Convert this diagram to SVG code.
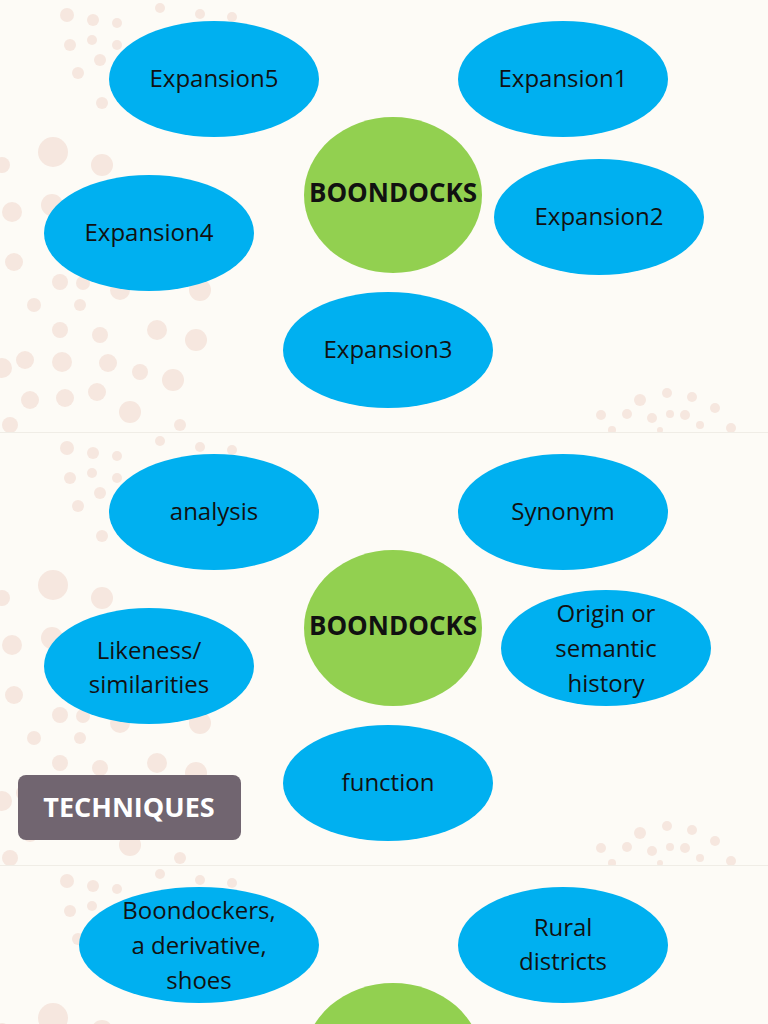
<svg xmlns="http://www.w3.org/2000/svg" width="768" height="1024" viewBox="0 0 768 1024">
<style>
.blue{fill:#00B0F0}
.green{fill:#92D050}
.t{font-family:"Open Sans","Liberation Sans",sans-serif;font-size:24px;fill:#111;text-anchor:middle}
.b{font-family:"Open Sans","Liberation Sans",sans-serif;font-size:26px;font-weight:bold;fill:#111;text-anchor:middle}
.dot{fill:#F6E7DF}
</style>
<defs>
<clipPath id="slide"><rect x="0" y="0" width="768" height="432"/></clipPath>
<g id="dots" class="dot">
<circle cx="67" cy="15" r="7"/><circle cx="93" cy="20" r="6"/><circle cx="117" cy="23" r="5"/><circle cx="70" cy="45" r="6"/><circle cx="92" cy="40" r="5"/><circle cx="117" cy="45" r="5"/><circle cx="100" cy="60" r="6"/><circle cx="78" cy="73" r="6"/><circle cx="102" cy="103" r="6"/><circle cx="160" cy="8" r="5"/><circle cx="200" cy="14" r="5"/><circle cx="232" cy="17" r="5"/>
<circle cx="53" cy="152" r="15"/><circle cx="102" cy="165" r="11"/><circle cx="2" cy="165" r="8"/><circle cx="12" cy="212" r="10"/><circle cx="52" cy="205" r="11"/><circle cx="14" cy="262" r="9"/><circle cx="60" cy="282" r="8"/><circle cx="83" cy="283" r="7"/><circle cx="120" cy="290" r="10"/><circle cx="200" cy="290" r="11"/><circle cx="34" cy="305" r="7"/><circle cx="80" cy="305" r="6"/><circle cx="60" cy="330" r="8"/><circle cx="100" cy="335" r="8"/><circle cx="157" cy="330" r="10"/><circle cx="196" cy="340" r="11"/><circle cx="25" cy="360" r="9"/><circle cx="62" cy="362" r="10"/><circle cx="108" cy="363" r="9"/><circle cx="140" cy="372" r="8"/><circle cx="173" cy="380" r="11"/><circle cx="2" cy="368" r="10"/><circle cx="97" cy="392" r="9"/><circle cx="30" cy="400" r="9"/><circle cx="65" cy="398" r="9"/><circle cx="130" cy="412" r="11"/><circle cx="180" cy="425" r="6"/><circle cx="10" cy="425" r="8"/>
<circle cx="601" cy="415" r="5"/><circle cx="627" cy="414" r="5"/><circle cx="640" cy="400" r="6"/><circle cx="652" cy="418" r="5"/><circle cx="667" cy="393" r="5"/><circle cx="670" cy="414" r="4"/><circle cx="685" cy="415" r="5"/><circle cx="692" cy="397" r="5"/><circle cx="700" cy="425" r="4"/><circle cx="715" cy="408" r="5"/><circle cx="731" cy="428" r="5"/><circle cx="612" cy="430" r="4"/><circle cx="660" cy="430" r="3"/>
</g>
</defs>
<rect x="0" y="0" width="768" height="1024" fill="#FDFBF6"/>
<g id="background">
<use href="#dots" clip-path="url(#slide)"/>
<g transform="translate(0,433)"><use href="#dots" clip-path="url(#slide)"/></g>
<g transform="translate(0,866)"><use href="#dots" clip-path="url(#slide)"/></g>
<line x1="0" y1="432.5" x2="768" y2="432.5" stroke="#F0EDE6" stroke-width="1"/>
<line x1="0" y1="865.5" x2="768" y2="865.5" stroke="#F0EDE6" stroke-width="1"/>
</g>
<g id="connectors"></g>
<!-- Slide 1 -->
<g id="s1-expansion5"><ellipse class="blue" cx="214" cy="79" rx="105" ry="58"/><text class="t" x="214" y="87">Expansion5</text></g>
<g id="s1-expansion1"><ellipse class="blue" cx="563" cy="79" rx="105" ry="58"/><text class="t" x="563" y="87">Expansion1</text></g>
<g id="s1-center"><ellipse class="green" cx="393" cy="195" rx="89" ry="78"/><text class="b" x="393" y="202">BOONDOCKS</text></g>
<g id="s1-expansion2"><ellipse class="blue" cx="599" cy="217" rx="105" ry="58"/><text class="t" x="599" y="225">Expansion2</text></g>
<g id="s1-expansion4"><ellipse class="blue" cx="149" cy="233" rx="105" ry="58"/><text class="t" x="149" y="241">Expansion4</text></g>
<g id="s1-expansion3"><ellipse class="blue" cx="388" cy="350" rx="105" ry="58"/><text class="t" x="388" y="358">Expansion3</text></g>
<!-- Slide 2 -->
<g id="s2-analysis"><ellipse class="blue" cx="214" cy="512" rx="105" ry="58"/><text class="t" x="214" y="520">analysis</text></g>
<g id="s2-synonym"><ellipse class="blue" cx="563" cy="512" rx="105" ry="58"/><text class="t" x="563" y="520">Synonym</text></g>
<g id="s2-center"><ellipse class="green" cx="393" cy="628" rx="89" ry="78"/><text class="b" x="393" y="635">BOONDOCKS</text></g>
<g id="s2-origin"><ellipse class="blue" cx="606" cy="648" rx="105" ry="58"/><text class="t" x="606" y="622">Origin or</text><text class="t" x="606" y="657">semantic</text><text class="t" x="606" y="692">history</text></g>
<g id="s2-likeness"><ellipse class="blue" cx="149" cy="666" rx="105" ry="58"/><text class="t" x="149" y="659">Likeness/</text><text class="t" x="149" y="693">similarities</text></g>
<g id="s2-function"><ellipse class="blue" cx="388" cy="783" rx="105" ry="58"/><text class="t" x="388" y="791">function</text></g>
<g id="s2-techniques"><rect x="18" y="775" width="223" height="65" rx="8" fill="#716570"/><text class="b" x="129" y="817" style="fill:#fff;font-size:27px">TECHNIQUES</text></g>
<!-- Slide 3 -->
<g id="s3-boondockers"><ellipse class="blue" cx="199" cy="945" rx="120" ry="58"/><text class="t" x="199" y="919">Boondockers,</text><text class="t" x="199" y="954">a derivative,</text><text class="t" x="199" y="989">shoes</text></g>
<g id="s3-rural"><ellipse class="blue" cx="563" cy="945" rx="105" ry="58"/><text class="t" x="563" y="936">Rural</text><text class="t" x="563" y="970">districts</text></g>
<g id="s3-center"><ellipse class="green" cx="393" cy="1061" rx="89" ry="78"/></g>
</svg>
